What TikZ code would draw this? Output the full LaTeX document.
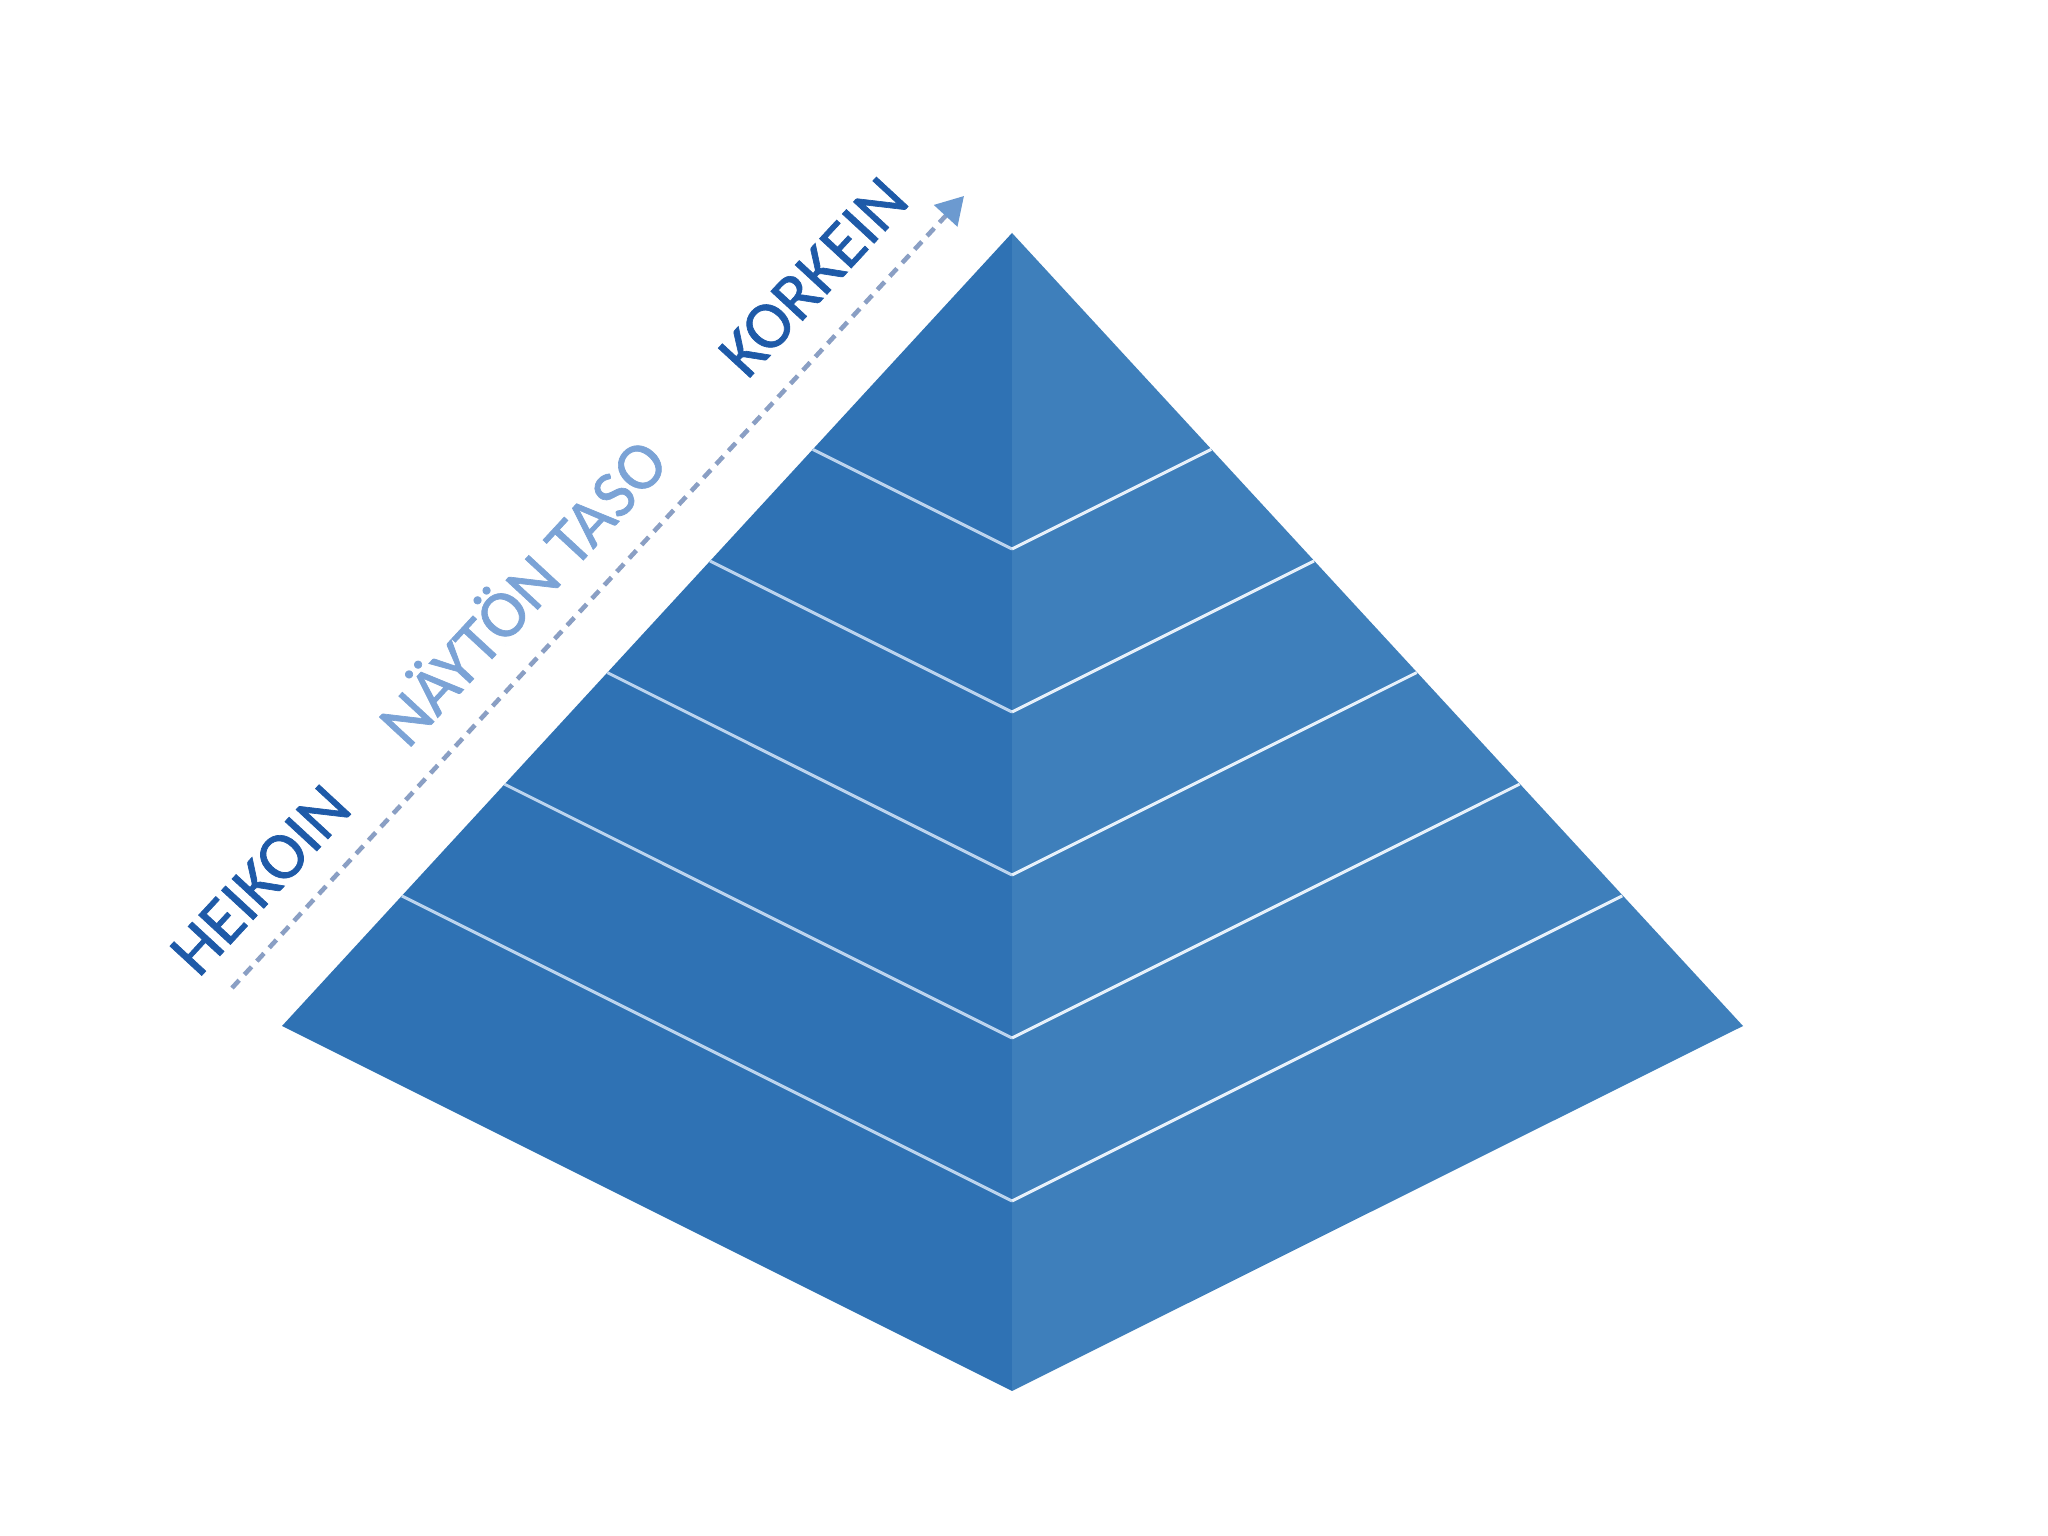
\documentclass[tikz,border=0pt]{standalone}
\usepackage{fontspec}
\setmainfont{Carlito}
\newfontfamily\lblfont[FakeBold=1]{Carlito}
\usetikzlibrary{arrows.meta,calc}
\definecolor{leftface}{HTML}{2F72B4}
\definecolor{rightface}{HTML}{3E7FBB}
\definecolor{lineL}{HTML}{BCD4EE}
\definecolor{lineR}{HTML}{E6F0FA}
\definecolor{darkblue}{HTML}{1E5AA8}
\definecolor{lightblue}{HTML}{7BA3D6}
\definecolor{dashcol}{HTML}{8A9FC4}
\definecolor{tipcol}{HTML}{6C9AD0}
\tikzset{
  layerL/.style={draw=lineL, line width=0.85pt},
  layerR/.style={draw=lineR, line width=0.85pt},
  dashline/.style={draw=dashcol, line width=1.3pt, dash pattern=on 3.0pt off 2.2pt,
    -{Triangle[length=7.7pt,width=8.8pt,color=tipcol]}},
  lbl/.style={font=\lblfont\fontsize{19.2pt}{22pt}\selectfont, rotate=47.26, anchor=center,
    text height=0.65em, text depth=0pt, inner sep=0pt}
}
\begin{document}
\begin{tikzpicture}[x=0.01cm,y=0.01cm]
\useasboundingbox[fill=white] (0,0) rectangle (2048,1536);
% main corners
\coordinate (A) at (1012,1303);
\coordinate (L) at (282,510);
\coordinate (R) at (1743,510);
\coordinate (B) at (1012,145);
% centre points
\coordinate (c1) at (1012,987);
\coordinate (c2) at (1012,824);
\coordinate (c3) at (1012,661);
\coordinate (c4) at (1012,498);
\coordinate (c5) at (1012,335);
% left edge points
\coordinate (l1) at (812.8,1086.6);
\coordinate (l2) at (710.0,975.0);
\coordinate (l3) at (607.3,863.4);
\coordinate (l4) at (504.5,751.8);
\coordinate (l5) at (401.8,640.1);
% right edge points
\coordinate (r1) at (1211.2,1086.6);
\coordinate (r2) at (1314.0,975.0);
\coordinate (r3) at (1416.7,863.4);
\coordinate (r4) at (1519.5,751.8);
\coordinate (r5) at (1622.2,640.1);
% faces
\fill[leftface] (A) -- (B) -- (L) -- cycle;
\fill[rightface] (A) -- (R) -- (B) -- cycle;
% layer lines
\foreach \i in {1,...,5}{
  \draw[layerL] (l\i) -- (c\i);
  \draw[layerR] (c\i) -- (r\i);
}
% arrow
\coordinate (S) at (232,548);
\coordinate (T) at (964,1340);
\draw[dashline] (S) -- (T);
% labels
\node[lbl, text=darkblue] (heikoin) at (268,649) {HEIKOIN};
\node[lbl, text=lightblue] (taso) at (531,936) {NÄYTÖN TASO};
\node[lbl, text=darkblue] (korkein) at (821,1252) {KORKEIN};
\end{tikzpicture}
\end{document}
